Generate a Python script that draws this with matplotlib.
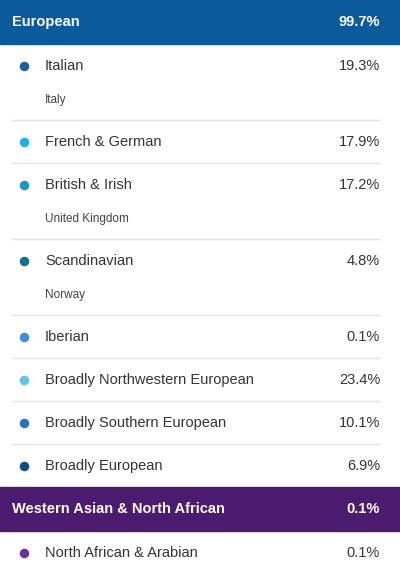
import matplotlib.pyplot as plt
from matplotlib.patches import Rectangle

# groups
groups = ["European", "Western Asian & North African"]
group_pcts = ["99.7%", "0.1%"]
group_colors = ["#0b5a9c", "#4b1b6f"]

# rows: name, percent, sub-region, dot color, group index
names = ["Italian", "French & German", "British & Irish", "Scandinavian", "Iberian",
         "Broadly Northwestern European", "Broadly Southern European", "Broadly European",
         "North African & Arabian"]
pcts = ["19.3%", "17.9%", "17.2%", "4.8%", "0.1%", "23.4%", "10.1%", "6.9%", "0.1%"]
subs = ["Italy", "", "United Kingdom", "Norway", "", "", "", "", ""]
dot_colors = ["#1a5ea6", "#1ab2e6", "#1597c6", "#0e6e9a", "#3a8fe0",
              "#5cc5e8", "#2472c8", "#0d4c86", "#6b2e9e"]
row_group = [0, 0, 0, 0, 0, 0, 0, 0, 1]

W, H = 400, 573
fig = plt.figure(figsize=(4, 5.73), dpi=100)
ax = fig.add_axes([0, 0, 1, 1])
ax.set_xlim(0, W)
ax.set_ylim(H, 0)
ax.axis("off")

font = "Liberation Sans"
y = 0
prev_group = None
for i, name in enumerate(names):
    g = row_group[i]
    if g != prev_group:
        ax.add_patch(Rectangle((0, y), W, 44, color=group_colors[g]))
        ax.text(12, y + 22, groups[g], color="white", fontsize=10.5, fontweight="bold",
                va="center", family=font)
        ax.text(380, y + 22, group_pcts[g], color="white", fontsize=10.5, fontweight="bold",
                va="center", ha="right", family=font)
        y += 44
        prev_group = g
    else:
        ax.plot([12, 380], [y, y], color="#e4e4e4", lw=1)
    ty = y + 22
    ax.scatter([24], [ty], s=34, color=dot_colors[i], zorder=3)
    ax.text(45, ty, name, fontsize=10.5, color="#333333", va="center", family=font)
    ax.text(380, ty, pcts[i], fontsize=10.5, color="#333333", va="center", ha="right", family=font)
    h = 43
    if subs[i]:
        ax.text(45, ty + 34, subs[i], fontsize=8.5, color="#444444", va="center", family=font)
        h = 76
    y += h

fig.savefig("out.png", dpi=100, facecolor="white")
